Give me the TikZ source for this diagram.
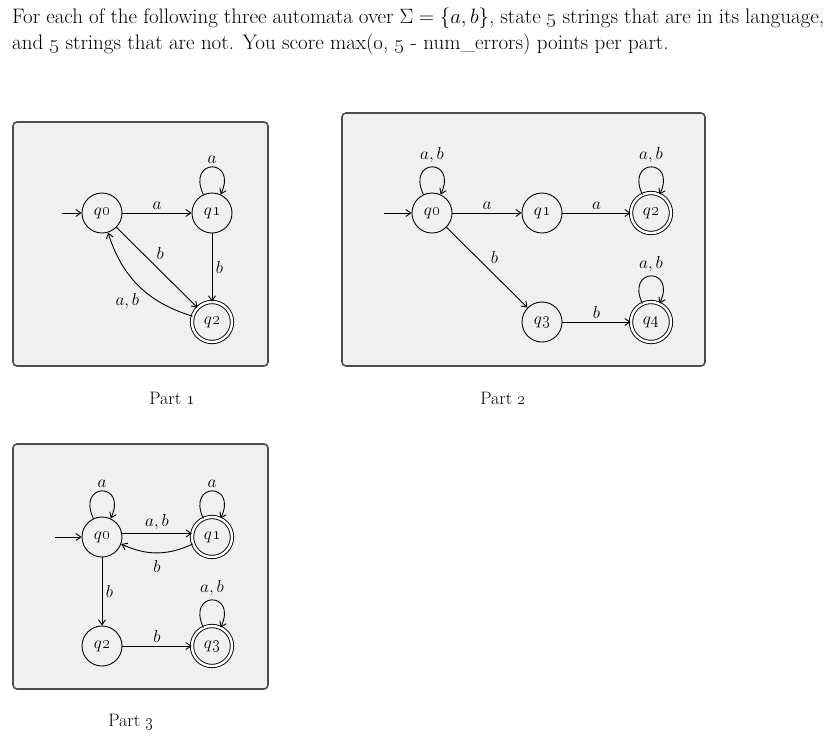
\documentclass[tikz,border=0pt]{standalone}
\usetikzlibrary{arrows.meta}
\begin{document}
\begin{tikzpicture}[x=1pt,y=-1pt,
  st/.style={circle,draw,line width=0.9pt,minimum size=40pt,inner sep=0pt,font=\fontsize{18}{20}\selectfont},
  acc/.style={st,double=white,double distance=2.4pt},
  panel/.style={draw=black!70,line width=1.6pt,fill=black!6,rounded corners=4pt},
  edge/.style={-{Straight Barb[length=5pt,width=7pt]},line width=0.9pt},
  lab/.style={font=\fontsize{18}{20}\selectfont},
  partcap/.style={font=\fontsize{18}{20}\selectfont},
  lp/.style={edge,looseness=6,min distance=12pt,out=115,in=65}]
\useasboundingbox (0,0) rectangle (833,740);
\newcommand{\qq}[1]{$q$\oldstylenums{#1}}
\node[anchor=north west,text width=812pt,align=justify,inner sep=0pt,font=\fontsize{21}{26}\selectfont] (txt) at (12,8)
{For each of the following three automata over $\Sigma=\{a,b\}$, state \oldstylenums{5} strings that are in its language, and \oldstylenums{5} strings that are not. You score max(\oldstylenums{0}, \oldstylenums{5} - num\_errors) points per part.};
% Part 1
\draw[panel] (13,122) rectangle (268,366);
\node[st] (a0) at (102,213) {\qq{0}};
\node[st] (a1) at (212,213) {\qq{1}};
\node[acc] (a2) at (212,322) {\qq{2}};
\coordinate (ai) at (62,213);
\draw[edge] (ai) -- (a0);
\draw[edge] (a0) -- node[lab,above]{$a$} (a1);
\draw[lp] (a1) to node[lab,above]{$a$} (a1);
\draw[edge] (a1) -- node[lab,right]{$b$} (a2);
\draw[edge] (a0) -- node[lab,above right,pos=0.45]{$b$} (a2);
\draw[edge] (a2) to[bend left=28] node[lab,below left,pos=0.45]{$a,b$} (a0);
\node[partcap] (c1) at (172,398) {Part \oldstylenums{1}};
% Part 2
\draw[panel] (342,113) rectangle (705,366);
\node[st] (b0) at (432,213) {\qq{0}};
\node[st] (b1) at (542,213) {\qq{1}};
\node[acc] (b2) at (651,213) {\qq{2}};
\node[st] (b3) at (542,322) {\qq{3}};
\node[acc] (b4) at (651,322) {\qq{4}};
\coordinate (bi) at (384,213);
\draw[edge] (bi) -- (b0);
\draw[lp] (b0) to node[lab,above]{$a,b$} (b0);
\draw[lp] (b2) to node[lab,above]{$a,b$} (b2);
\draw[lp] (b4) to node[lab,above]{$a,b$} (b4);
\draw[edge] (b0) -- node[lab,above right,pos=0.5]{$b$} (b3);
\draw[edge] (b0) -- node[lab,above]{$a$} (b1);
\draw[edge] (b1) -- node[lab,above]{$a$} (b2);
\draw[edge] (b3) -- node[lab,above]{$b$} (b4);
\node[partcap] (c2) at (503,398) {Part \oldstylenums{2}};
% Part 3
\draw[panel] (13,444) rectangle (268,689);
\node[st] (d0) at (102,537) {\qq{0}};
\node[acc] (d1) at (212,537) {\qq{1}};
\node[st] (d2) at (102,646) {\qq{2}};
\node[acc] (d3) at (212,646) {\qq{3}};
\coordinate (di) at (55,537);
\draw[edge] (di) -- (d0);
\draw[lp] (d0) to node[lab,above]{$a$} (d0);
\draw[lp] (d1) to node[lab,above]{$a$} (d1);
\draw[lp] (d3) to node[lab,above]{$a,b$} (d3);
\draw[edge] (d0.10) -- node[lab,above]{$a,b$} (d1.170);
\draw[edge] (d1.200) to[bend left=25] node[lab,below=4pt]{$b$} (d0.340);
\draw[edge] (d0) -- node[lab,right]{$b$} (d2);
\draw[edge] (d2) -- node[lab,above]{$b$} (d3);
\node[partcap] (c3) at (131,722) {Part \oldstylenums{3}};
\end{tikzpicture}
\end{document}
